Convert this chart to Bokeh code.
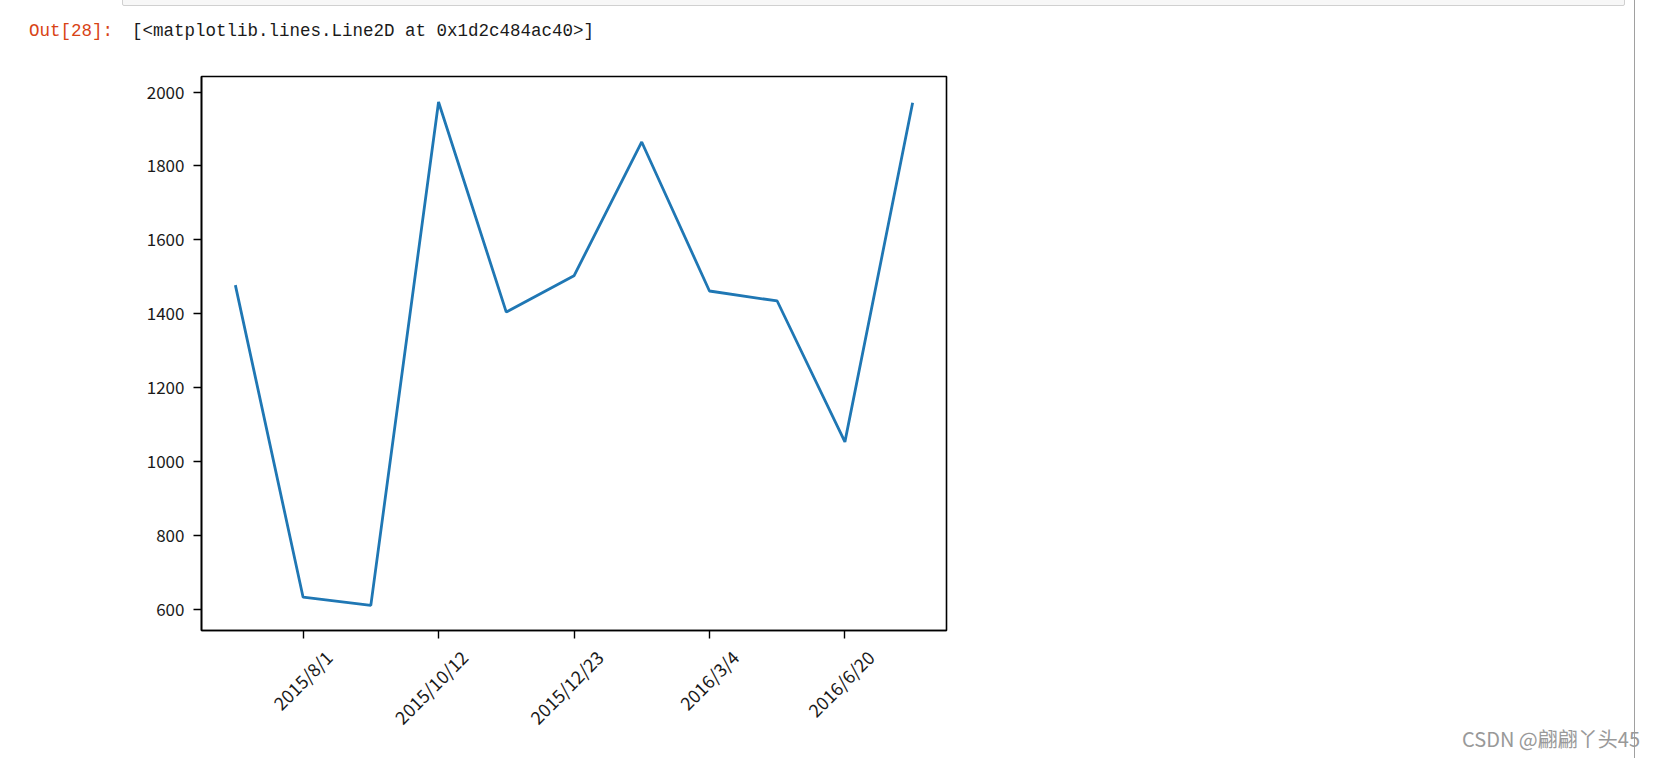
import math
from bokeh.plotting import figure
from bokeh.models import FixedTicker, Range1d, Div
from bokeh.layouts import column, row
from bokeh.embed import file_html
from bokeh.resources import INLINE

# ---- data ----
x_index = list(range(11))
values = [1478, 634, 612, 1973, 1405, 1503, 1865, 1462, 1435, 1054, 1971]
tick_positions = [1, 3, 5, 7, 9]
tick_labels = ["2015/8/1", "2015/10/12", "2015/12/23", "2016/3/4", "2016/6/20"]
y_ticks = [600, 800, 1000, 1200, 1400, 1600, 1800, 2000]
out_prompt = "Out[28]:"
out_text = "[<matplotlib.lines.Line2D at 0x1d2c484ac40>]"
watermark = "CSDN @翩翩丫头45"

PAGE_W = 1656
TOP_H = 68
FIG_W, FIG_H = 1466, 690
LEFT, FTOP, FW, FH = 201, 8, 745, 554

# ---- header (notebook output prompt) ----
esc = out_text.replace("&", "&amp;").replace("<", "&lt;").replace(">", "&gt;")
top_html = (
    f'<div style="position:relative;width:{PAGE_W}px;height:{TOP_H}px;overflow:hidden;">'
    '<div style="position:absolute;left:122px;top:-10px;width:1503px;height:16px;'
    'border:1px solid #d0d0d0;border-radius:2px;background:#f7f7f7;"></div>'
    '<span style="position:absolute;left:29px;top:20px;line-height:22px;'
    "font-family:'Liberation Mono';font-size:17.5px;color:#d84315;white-space:pre;\">"
    f'{out_prompt}</span>'
    '<span style="position:absolute;left:132px;top:20px;line-height:22px;'
    "font-family:'Liberation Mono';font-size:17.5px;color:#1a1a1a;white-space:pre;\">"
    f'{esc}</span>'
    '<div style="position:absolute;left:1634px;top:0;width:1px;height:100%;background:#a0a0a0;"></div>'
    '</div>'
)
top_div = Div(text=top_html, width=PAGE_W, height=TOP_H, margin=0)

# ---- the chart ----
p = figure(width=FIG_W, height=FIG_H, output_backend="svg", toolbar_location=None,
           x_range=Range1d(-0.5, 10.5), y_range=Range1d(544, 2042),
           min_border_left=LEFT, min_border_top=FTOP,
           min_border_right=FIG_W - LEFT - FW, min_border_bottom=FIG_H - FTOP - FH,
           margin=0)
p.background_fill_color = "white"
p.border_fill_color = "white"
p.outline_line_color = "black"
p.outline_line_width = 1.6
p.xgrid.visible = False
p.ygrid.visible = False

p.line(x_index, values, line_color="#1f77b4", line_width=2.8)

for ax in (p.xaxis[0], p.yaxis[0]):
    ax.axis_line_color = "black"
    ax.axis_line_width = 1.6
    ax.major_label_text_font = "Noto Sans CJK SC"
    ax.major_label_text_color = "#1a1a1a"

yax = p.yaxis[0]
yax.ticker = FixedTicker(ticks=y_ticks)
yax.major_tick_line_color = "black"
yax.major_tick_line_width = 1.4
yax.major_tick_in = 0
yax.major_tick_out = 8
yax.minor_tick_line_color = None
yax.major_label_text_font_size = "17px"
yax.major_label_standoff = 9

# x axis: tick marks at the categories (drawn as minor ticks), rotated labels
# centred under them the way matplotlib does (major ticks, no marks)
label_shift = 0.375
label_ticks = [t + label_shift for t in tick_positions]
xax = p.xaxis[0]
xax.ticker = FixedTicker(ticks=label_ticks, minor_ticks=tick_positions)
xax.major_label_overrides = {t: l for t, l in zip(label_ticks, tick_labels)}
xax.major_label_orientation = math.pi / 4
xax.major_label_standoff = 15
xax.major_label_text_font_size = "18px"
xax.major_tick_line_color = None
xax.major_tick_in = 0
xax.major_tick_out = 0
xax.minor_tick_line_color = "black"
xax.minor_tick_line_width = 1.4
xax.minor_tick_in = 0
xax.minor_tick_out = 8

# ---- right strip with the watermark ----
RW = PAGE_W - FIG_W
right_html = (
    f'<div style="position:relative;width:{RW}px;height:{FIG_H}px;overflow:visible;">'
    f'<div style="position:absolute;left:{1634 - FIG_W}px;top:0;width:1px;height:100%;background:#a0a0a0;"></div>'
    '<span style="position:absolute;right:16px;top:661px;line-height:20px;'
    "font-family:'Noto Sans CJK SC';font-size:20px;color:#999999;white-space:pre;\">"
    f'{watermark}</span>'
    '</div>'
)
right_div = Div(text=right_html, width=RW, height=FIG_H, margin=0)

layout = column(top_div, row(p, right_div, spacing=0, margin=0), spacing=0, margin=0)
open("out.html", "w").write(file_html(layout, INLINE))
